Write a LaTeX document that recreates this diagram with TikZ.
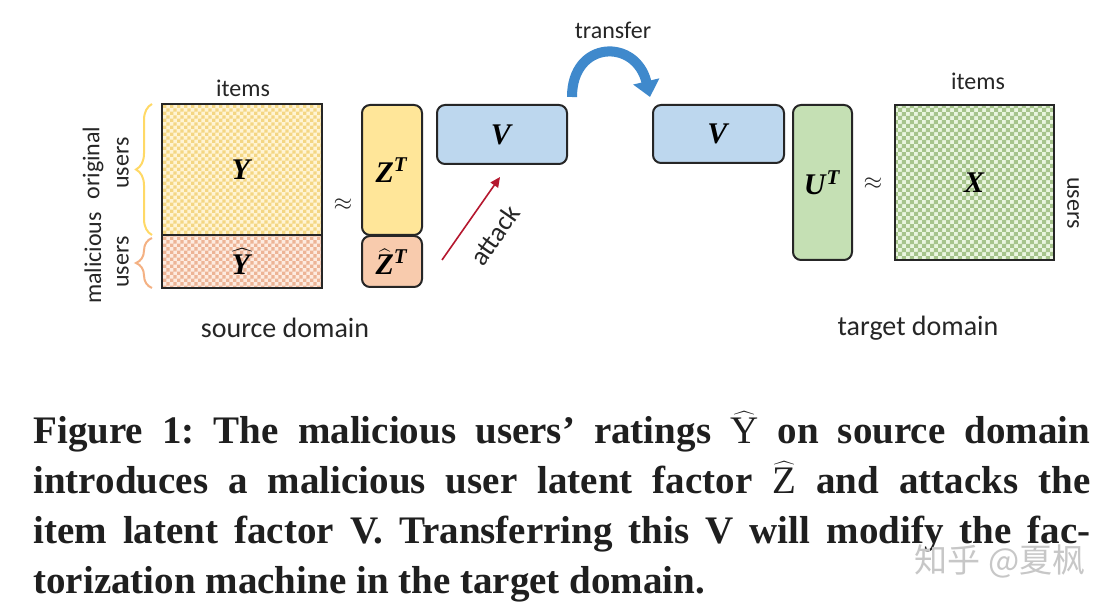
\documentclass[tikz,border=0pt]{standalone}
\usepackage{fontspec}
\setmainfont{Liberation Serif}
\newfontfamily\calibri{Carlito}
\newfontfamily\cjk{Noto Sans CJK SC}
\usetikzlibrary{patterns,arrows.meta,decorations.pathreplacing}
\definecolor{ylwbg}{HTML}{FFF4D4}
\definecolor{ylwpt}{HTML}{F4D683}
\definecolor{orgbg}{HTML}{FDEBE0}
\definecolor{orgpt}{HTML}{EDB496}
\definecolor{grnbg}{HTML}{EAF6E0}
\definecolor{grnpt}{HTML}{A6C48C}
\definecolor{zylw}{HTML}{FFE699}
\definecolor{zorg}{HTML}{F8CBAD}
\definecolor{vblu}{HTML}{BDD7EE}
\definecolor{ugrn}{HTML}{C5E0B4}
\definecolor{brY}{HTML}{FFD966}
\definecolor{brO}{HTML}{F4B183}
\definecolor{atkred}{HTML}{B5172E}
\definecolor{trblue}{HTML}{3F89CC}
\newcommand{\mtx}[1]{\textbf{\textit{#1}}}
\pgfdeclarepatternformonly{smallchk}{\pgfpointorigin}{\pgfqpoint{3.4pt}{3.4pt}}{\pgfqpoint{3.4pt}{3.4pt}}{%
	\pgfpathrectangle{\pgfpointorigin}{\pgfqpoint{1.75pt}{1.75pt}}%
	\pgfpathrectangle{\pgfqpoint{1.7pt}{1.7pt}}{\pgfqpoint{1.75pt}{1.75pt}}%
	\pgfusepath{fill}}
\pgfdeclarepatternformonly{largechk}{\pgfpointorigin}{\pgfqpoint{4.2pt}{4.2pt}}{\pgfqpoint{4.2pt}{4.2pt}}{%
	\pgfpathrectangle{\pgfpointorigin}{\pgfqpoint{2.15pt}{2.15pt}}%
	\pgfpathrectangle{\pgfqpoint{2.1pt}{2.1pt}}{\pgfqpoint{2.15pt}{2.15pt}}%
	\pgfusepath{fill}}
\begin{document}
\begin{tikzpicture}[x=0.5pt,y=-0.5pt,
	mat/.style={draw=black!85,line width=1pt,inner sep=0pt,font=\fontsize{15}{15}\selectfont},
	chk/.style n args={3}{mat,preaction={fill=#1},pattern=#3,pattern color=#2},
	fac/.style={mat,rounded corners=4pt},
	lbl/.style={font=\calibri\fontsize{12}{12}\selectfont,text=black!85},
	dom/.style={font=\calibri\fontsize{14}{14}\selectfont,text=black!85},
	brc/.style={decorate,decoration={brace,amplitude=8pt},line width=1pt}]
	\fill[white](0,0)rectangle(1120,608);
	\useasboundingbox(0,0)rectangle(1120,608);
	% source domain
	\node[chk={ylwbg}{ylwpt}{smallchk},minimum width=80pt,minimum height=65.5pt](Y)at(242,169.5){\mtx{Y}};
	\node[chk={orgbg}{orgpt}{smallchk},minimum width=80pt,minimum height=26.5pt](Yh)at(242,261.5){$\widehat{\mbox{\mtx{Y}}}$};
	\node[fac,fill=zylw,minimum width=30pt,minimum height=65pt](Z)at(392,170){\mtx{Z}\textsuperscript{\mtx{T}}};
	\node[fac,fill=zorg,minimum width=30pt,minimum height=25.5pt](Zh)at(392,261.5){$\widehat{\mbox{\mtx{Z}}}$\textsuperscript{\mtx{T}}};
	\node[fac,fill=vblu,minimum width=65pt,minimum height=29.5pt](Vs)at(502,134.5){\mtx{V}};
	% target domain
	\node[fac,fill=vblu,minimum width=65.5pt,minimum height=29pt](Vt)at(718.5,134){\mtx{V}};
	\node[fac,fill=ugrn,minimum width=29.5pt,minimum height=77.5pt](U)at(822.5,182.5){\mtx{U}\textsuperscript{\mtx{T}}};
	\node[chk={grnbg}{grnpt}{largechk},minimum width=79.5pt,minimum height=77.5pt](X)at(974.5,182.5){\mtx{X}};
	\node[lbl](itS)at(243,88){items};
	\node[lbl](itT)at(978,81){items};
	\node[lbl](apS)at(343,205){$\approx$};
	\node[lbl](apT)at(873,184){$\approx$};
	\node[lbl,rotate=90](usO)at(123,163){users};
	\node[lbl,rotate=90](usM)at(123,262){users};
	\node[lbl,rotate=90](orig)at(93,163){original};
	\node[lbl,rotate=90](mal)at(93,258){malicious};
	\node[lbl,rotate=-90](usT)at(1073,203){users};
	\node[dom](srcD)at(285,328){source domain};
	\node[dom](tgtD)at(918,328){target domain};
	\draw[brc,draw=brY](152,235)--(152,104);
	\draw[brc,draw=brO](152,288)--(152,238);
	% attack and transfer
	\coordinate(atkA)at(442,260);
	\coordinate(atkB)at(500,177);
	\draw[atkred,line width=0.8pt,-{Triangle[length=5pt,width=4.5pt]}](atkA)--(atkB)node[midway,sloped,below=6pt,lbl,font=\calibri\fontsize{13.5}{13.5}\selectfont](atkL){attack};
	\coordinate(trA)at(572,97);
	\coordinate(trB)at(650,97);
	\draw[trblue,line width=5pt,-{Triangle[length=8pt,width=13pt]}](trA)..controls(572,40)and(636,38)..(trB);
	\node[lbl](trf)at(613,30){transfer};
	% caption
	\node[anchor=north west,inner sep=0pt,text width=528.5pt,align=justify,font=\bfseries\fontsize{19.5}{25}\selectfont,text=black!88](cap)at(33,411){\frenchspacing\hyphenpenalty=10000 Figure 1: The malicious users’ ratings $\widehat{\mbox{\mdseries Y}}$ on source domain\linebreak introduces a malicious user latent factor $\widehat{\mbox{\mdseries Z}}$ and attacks the\linebreak item latent factor V. Transferring this V will modify the fac-\linebreak torization machine in the target domain.};
	\node[font=\cjk\fontsize{16.5}{16.5}\selectfont,text=black!22](wm)at(1000,561){知乎 @夏枫};
\end{tikzpicture}
\end{document}
